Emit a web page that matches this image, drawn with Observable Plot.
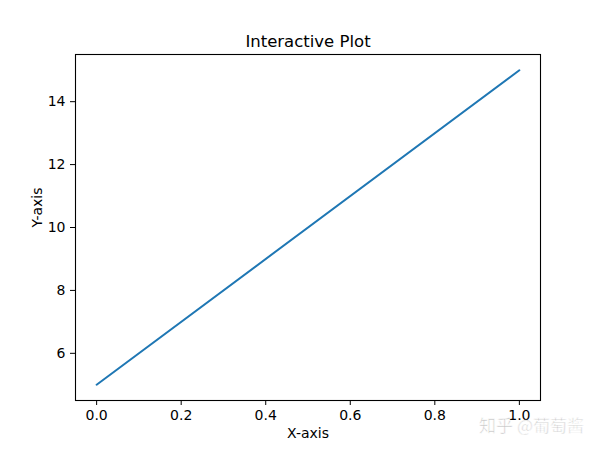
<!DOCTYPE html>
<html><head><meta charset="utf-8">
<script src="https://cdn.jsdelivr.net/npm/d3@7"></script>
<script src="https://cdn.jsdelivr.net/npm/@observablehq/plot@0.6"></script>
<style>body{margin:0;background:#fff;} svg{font-family:"DejaVu Sans",sans-serif;}</style>
</head><body><div id="chart"></div>
<script>
const xValues = [0, 1];
const yValues = [5, 15];
const xTicks = [0, 0.2, 0.4, 0.6, 0.8, 1.0];
const yTicks = [6, 8, 10, 12, 14];
const titleText = "Interactive Plot";
const xLabel = "X-axis";
const yLabel = "Y-axis";
const watermark = "知乎 @葡萄酱";

const data = xValues.map((x, i) => ({x, y: yValues[i]}));

const chart = Plot.plot({
  width: 600, height: 450,
  marginLeft: 75, marginRight: 60, marginTop: 54, marginBottom: 50,
  style: {fontFamily: "DejaVu Sans, sans-serif", background: "#fff", overflow: "visible"},
  x: {domain: [-0.05, 1.05]},
  y: {domain: [4.5, 15.5]},
  marks: [
    Plot.line(data, {x: "x", y: "y", stroke: "#1f77b4", strokeWidth: 2}),
    Plot.frame({stroke: "#000", strokeWidth: 1.1}),
    Plot.axisX({ticks: xTicks, tickFormat: d3.format(".1f"), tickSize: 5, tickPadding: 5, fontSize: 14, label: null, stroke: "#000", fill: "#000", strokeOpacity: 1}),
    Plot.axisY({ticks: yTicks, tickSize: 5, tickPadding: 5, fontSize: 14, label: null, stroke: "#000", fill: "#000", strokeOpacity: 1}),
    Plot.text([titleText], {frameAnchor: "top", dy: -8, lineAnchor: "bottom", fontSize: 16.5, fill: "#000"}),
    Plot.text([xLabel], {frameAnchor: "bottom", dy: 37, lineAnchor: "bottom", fontSize: 14, fill: "#000"}),
    Plot.text([yLabel], {frameAnchor: "left", dx: -38, rotate: -90, fontSize: 14, fill: "#000"})
  ]
});
document.getElementById("chart").append(chart);

d3.select(chart).append("text")
  .attr("x", 584).attr("y", 432).attr("text-anchor", "end")
  .attr("font-family", "Noto Sans CJK SC, sans-serif").attr("font-size", 17)
  .attr("fill", "#c4c4c4").attr("stroke", "#fff").attr("stroke-width", 0.6)
  .text(watermark);
</script></body></html>
